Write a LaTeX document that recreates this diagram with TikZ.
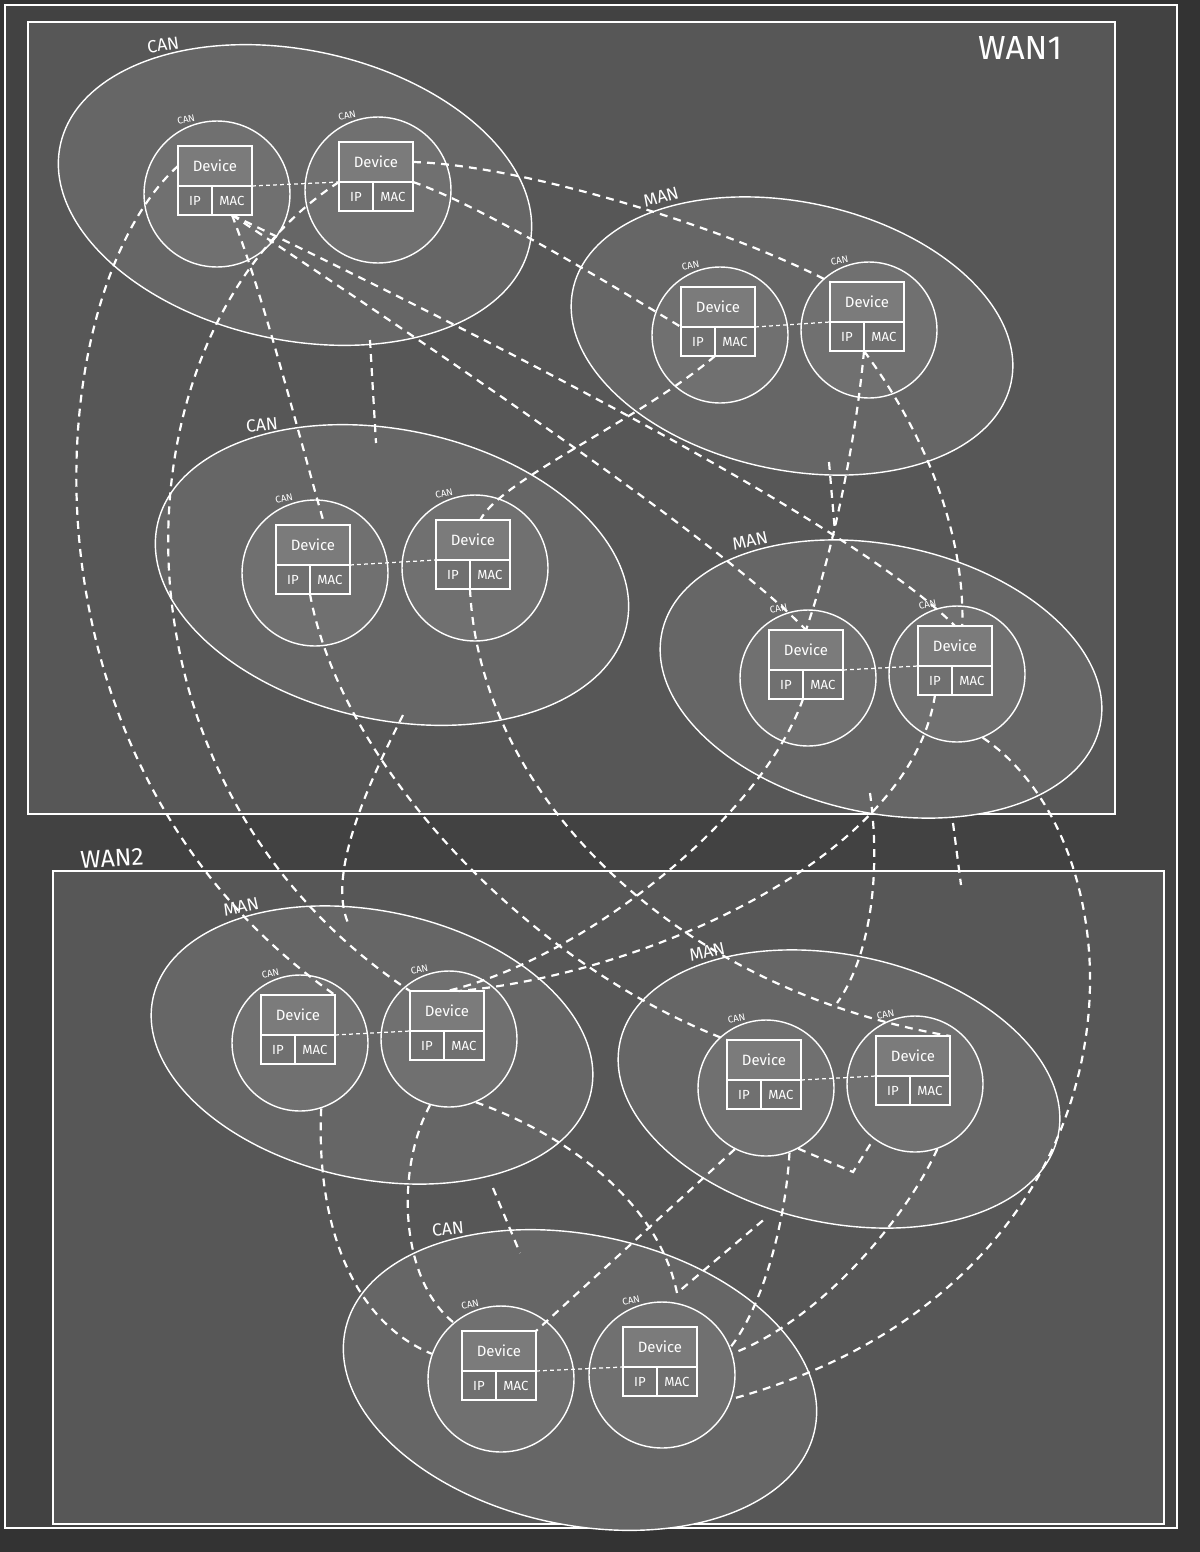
\documentclass[tikz,border=0pt]{standalone}
\usepackage{fontspec}
\setmainfont{Fira Sans}
\usetikzlibrary{shapes.geometric}
\usetikzlibrary{positioning}
\definecolor{bgdark}{HTML}{333333}
\definecolor{framegray}{HTML}{424242}
\definecolor{wangray}{HTML}{575757}
\definecolor{zonegray}{HTML}{666666}
\definecolor{langray}{HTML}{707070}
\definecolor{devgray}{HTML}{7B7B7B}
\tikzset{
    outerframe/.style = {draw=white, line width=0.9pt, fill=framegray},
    wanbox/.style = {draw=white, line width=0.9pt, fill=wangray},
    wanlbl/.style = {text=white, font=\fontsize{19}{22}\selectfont},
    zone/.style = {ellipse, draw=white, line width=0.8pt, fill=zonegray, inner sep=0pt, rotate=-12},
    canzone/.style = {zone, minimum width=9.6cm, minimum height=5.8cm},
    manzone/.style = {zone, minimum width=8.96cm, minimum height=5.36cm},
    zonelbl/.style = {text=white, font=\fontsize{10}{12}\selectfont, inner sep=1pt},
    canlbl/.style = {text=white, font=\fontsize{5.5}{6}\selectfont, inner sep=1pt, rotate=12},
    lan/.style = {circle, draw=white, line width=0.8pt, fill=langray, inner sep=0pt, minimum size=2.72cm, label={[canlbl]105:CAN}},
    lanbig/.style = {lan, minimum size=2.92cm},
    dev/.style = {rectangle, draw=white, line width=0.7pt, fill=devgray, inner sep=0pt, outer sep=0pt, minimum width=1.48cm, minimum height=0.8cm, text=white, font=\fontsize{8.5}{9}\selectfont},
    ipbox/.style = {rectangle, draw=white, line width=0.7pt, fill=langray, inner sep=0pt, outer sep=0pt, minimum width=0.68cm, minimum height=0.58cm, text=white, font=\fontsize{7.5}{8}\selectfont},
    macbox/.style = {ipbox, minimum width=0.8cm},
    link/.style = {draw=white, line width=1.25pt, dash pattern=on 4.5pt off 3.5pt},
    lanlink/.style = {draw=white, line width=0.7pt, dash pattern=on 2.2pt off 1.8pt}
}
\begin{document}
\begin{tikzpicture}[x=0.02cm, y=-0.02cm]
\useasboundingbox (0,0) rectangle (1200,1552);
%
\fill[bgdark] (0,0) rectangle (1200,1552);
\draw[outerframe] (5,5) rectangle (1177,1528);
\draw[wanbox] (28,22) rectangle (1115,814);
\draw[wanbox] (53,871) rectangle (1164,1524);
\node[wanlbl] (wan1) at (1020,48) {WAN1};
\node[wanlbl, font=\fontsize{14}{16}\selectfont, rotate=3] (wan2) at (112,858) {WAN2};
%
\node[canzone] (z1) at (295,195) {};
\node[manzone] (z2) at (792,336) {};
\node[canzone] (z3) at (392,575) {};
\node[manzone] (z4) at (881,679) {};
\node[manzone] (z5) at (372,1045) {};
\node[manzone] (z6) at (839,1089) {};
\node[canzone] (z7) at (580,1380) {};
%
\node[zonelbl, rotate=8] (t1) at (163,45) {CAN};
\node[zonelbl, rotate=15] (t2) at (661,197) {MAN};
\node[zonelbl, rotate=5] (t3) at (262,425) {CAN};
\node[zonelbl, rotate=12] (t4) at (750,541) {MAN};
\node[zonelbl, rotate=12] (t5) at (241,907) {MAN};
\node[zonelbl, rotate=12] (t6) at (707,952) {MAN};
\node[zonelbl, rotate=5] (t7) at (448,1229) {CAN};
%
\node[lanbig] (c1) at (217,194) {};
\node[lanbig] (c2) at (378,190) {};
\node[lan] (c3) at (720,335) {};
\node[lan] (c4) at (869,330) {};
\node[lanbig] (c5) at (315,573) {};
\node[lanbig] (c6) at (475,568) {};
\node[lan] (c7) at (808,678) {};
\node[lan] (c8) at (957,674) {};
\node[lan] (c9) at (300,1043) {};
\node[lan] (c10) at (449,1039) {};
\node[lan] (c11) at (766,1088) {};
\node[lan] (c12) at (915,1084) {};
\node[lanbig] (c13) at (501,1379) {};
\node[lanbig] (c14) at (662,1375) {};
%
\foreach \n in {1,...,14} {
  \node[dev, anchor=north west] (d\n) at ([shift={(-39,-48)}]c\n.center) {Device};
  \node[ipbox, below right=0pt of d\n.south west] (i\n) {IP};
  \node[macbox, right=0pt of i\n] (m\n) {MAC};
}
\foreach \a/\b in {1/2,3/4,5/6,7/8,9/10,11/12,13/14}
  \draw[lanlink] (d\a.south east) -- (d\b.south west);
%
\coordinate (tail1a) at (370,340);
\coordinate (tail1b) at (376,443);
\coordinate (tail2a) at (829,462);
\coordinate (tail2b) at (835,532);
\coordinate (tail3a) at (403,715);
\coordinate (tail3b) at (350,927);
\coordinate (tail4a) at (870,793);
\coordinate (tail4b) at (837,1003);
\coordinate (tail5a) at (953,823);
\coordinate (tail5b) at (961,885);
\coordinate (tail6a) at (493,1188);
\coordinate (tail6b) at (520,1253);
\coordinate (tail7) at (767,1217);
\coordinate (kink1) at (677,1293);
\coordinate (kink2) at (853,1172);
%
% WAN1
\draw[link] (d2.east) .. controls (520,165) and (720,225) .. (d4.north west);
\draw[link] (d2.south east) .. controls (480,205) and (620,290) .. (d3.south west);
\draw[link] (m1.south) .. controls (450,320) and (850,520) .. (d8.north);
\draw[link] (m1.south) .. controls (420,340) and (720,540) .. (d7.north);
\draw[link] (m1.south) .. controls (265,300) and (300,440) .. (d5.60);
\draw[link] (i3.south east) .. controls (640,420) and (500,480) .. (d6.70);
\draw[link] (i4.south east) .. controls (855,450) and (830,560) .. (d7.north);
\draw[link] (i4.south east) .. controls (930,440) and (965,540) .. (d8.70);
\draw[link] (tail1a) -- (tail1b);
\draw[link] (tail2a) -- (tail2b);
%
% WAN1 to WAN2
\draw[link] (d1.west) .. controls (40,290) and (0,760) .. (d9.north east);
\draw[link] (d2.south west) .. controls (110,330) and (90,780) .. (d10.north west);
\draw[link] (i5.south east) .. controls (340,760) and (520,960) .. (d11.north west);
\draw[link] (i6.south east) .. controls (480,800) and (680,990) .. (d12.north east);
\draw[link] (i7.south east) .. controls (760,820) and (580,960) .. (d10.north);
\draw[link] (i8.south) .. controls (910,860) and (640,975) .. (d10.60);
\draw[link] (c8.-68) .. controls (1150,850) and (1160,1280) .. (c14.-19);
\draw[link] (tail3a) .. controls (365,790) and (325,880) .. (tail3b);
\draw[link] (tail4a) .. controls (882,880) and (868,960) .. (tail4b);
\draw[link] (tail5a) -- (tail5b);
%
% WAN2
\draw[link] (c9.-72) .. controls (316,1220) and (350,1320) .. (c13.160);
\draw[link] (c10.-106) .. controls (395,1170) and (400,1280) .. (c13.130);
\draw[link] (c10.-67) .. controls (580,1140) and (660,1210) .. (kink1) -- (tail7);
\draw[link] (c11.-117) -- (d13.north east);
\draw[link] (c11.-70) .. controls (785,1230) and (760,1310) .. (c14.22);
\draw[link] (c12.-71) .. controls (905,1220) and (820,1320) .. (c14.17);
\draw[link] (c11.-62) -- (kink2) -- (c12.-127);
\draw[link] (tail6a) -- (tail6b);
\end{tikzpicture}
\end{document}
